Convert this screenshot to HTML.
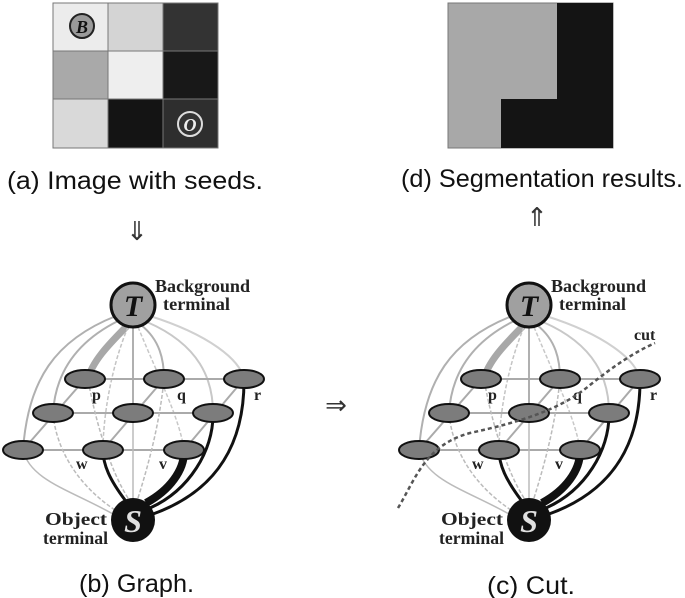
<!DOCTYPE html>
<html><head><meta charset="utf-8"><style>html,body{margin:0;padding:0;background:#fff}svg{display:block}</style></head>
<body>
<svg width="685" height="598" viewBox="0 0 685 598" xmlns="http://www.w3.org/2000/svg">
<defs>
<g id="graph">
  <g fill="none" stroke="#b0b0b0" stroke-width="2">
    <path d="M116 316 C55 340 28 380 23 450"/>
    <path d="M118 321 C70 345 55 380 53 413"/>
    <path d="M127 326 C108 345 92 362 88 379" stroke="#a8a8a8" stroke-width="7"/>
    <path d="M133 327 L133 413"/>
    <path d="M141 325 C160 340 164 360 164 379"/>
    <path d="M128 327 C110 370 103 420 103 450" stroke="#c4c4c4" stroke-dasharray="4 2" stroke-width="1.5"/>
    <path d="M147 322 C200 345 213 380 213 413" stroke="#c8c8c8"/>
    <path d="M150 316 C210 335 240 360 244 379" stroke="#d0d0d0"/>
    <path d="M138 327 C160 380 180 420 184 450" stroke="#c8c8c8" stroke-dasharray="4 2" stroke-width="1.5"/>
  </g>
  <g fill="none" stroke="#aaaaaa" stroke-width="2">
    <line x1="85" y1="379" x2="244" y2="379"/>
    <line x1="53" y1="413" x2="213" y2="413"/>
    <line x1="23" y1="450" x2="184" y2="450"/>
    <line x1="85" y1="379" x2="23" y2="450"/>
    <line x1="164" y1="379" x2="103" y2="450"/>
    <line x1="244" y1="379" x2="184" y2="450"/>
  </g>
  <g fill="none" stroke="#bbbbbb" stroke-width="1.5">
    <path d="M113 514 C70 490 30 480 23 450"/>
    <path d="M115 510 C70 480 55 440 53 413" stroke-dasharray="4 2"/>
    <path d="M133 498 L133 413"/>
    <path d="M128 498 C110 470 95 420 88 379" stroke-dasharray="4 2"/>
    <path d="M138 498 C150 460 160 420 164 379" stroke-dasharray="4 2"/>
  </g>
  <g fill="none" stroke="#111" stroke-width="3">
    <path d="M125 500 C110 480 103 465 103 450"/>
    <path d="M146 503 C170 490 184 470 184 452" stroke-width="8"/>
    <path d="M150 508 C190 490 213 450 213 415"/>
    <path d="M153 514 C220 490 244 440 244 381"/>
  </g>
  <g fill="#7c7c7c" stroke="#111" stroke-width="2">
    <ellipse cx="85" cy="379" rx="20" ry="9"/>
    <ellipse cx="164" cy="379" rx="20" ry="9"/>
    <ellipse cx="244" cy="379" rx="20" ry="9"/>
    <ellipse cx="53" cy="413" rx="20" ry="9"/>
    <ellipse cx="133" cy="413" rx="20" ry="9"/>
    <ellipse cx="213" cy="413" rx="20" ry="9"/>
    <ellipse cx="23" cy="450" rx="20" ry="9"/>
    <ellipse cx="103" cy="450" rx="20" ry="9"/>
    <ellipse cx="184" cy="450" rx="20" ry="9"/>
  </g>
  <circle cx="133" cy="305" r="22" fill="#a0a0a0" stroke="#111" stroke-width="3"/>
  <text x="133" y="316" text-anchor="middle" font-family="Liberation Serif, serif" font-style="italic" font-weight="bold" font-size="30" fill="#111">T</text>
  <circle cx="133" cy="520" r="22" fill="#111"/>
  <text x="133" y="532" text-anchor="middle" font-family="Liberation Serif, serif" font-style="italic" font-weight="bold" font-size="32" fill="#e0e0e0">S</text>
  <g font-family="Liberation Serif, serif" font-weight="bold" font-size="18" fill="#222">
    <text x="155" y="292" textLength="95" lengthAdjust="spacingAndGlyphs">Background</text>
    <text x="163" y="310" textLength="67" lengthAdjust="spacingAndGlyphs">terminal</text>
    <text x="45" y="525" textLength="62" lengthAdjust="spacingAndGlyphs">Object</text>
    <text x="43" y="544" textLength="65" lengthAdjust="spacingAndGlyphs">terminal</text>
    <text x="92" y="400" font-size="16">p</text>
    <text x="177" y="400" font-size="16">q</text>
    <text x="254" y="400" font-size="16">r</text>
    <text x="76" y="469" font-size="16">w</text>
    <text x="159" y="469" font-size="16">v</text>
  </g>
</g>
</defs>

<g stroke="#777" stroke-width="1">
  <rect x="53" y="3" width="55" height="48" fill="#ececec"/>
  <rect x="108" y="3" width="55" height="48" fill="#d4d4d4"/>
  <rect x="163" y="3" width="55" height="48" fill="#333"/>
  <rect x="53" y="51" width="55" height="48" fill="#a9a9a9"/>
  <rect x="108" y="51" width="55" height="48" fill="#eeeeee"/>
  <rect x="163" y="51" width="55" height="48" fill="#181818"/>
  <rect x="53" y="99" width="55" height="49" fill="#d9d9d9"/>
  <rect x="108" y="99" width="55" height="49" fill="#141414"/>
  <rect x="163" y="99" width="55" height="49" fill="#2e2e2e"/>
</g>
<circle cx="82" cy="26" r="12" fill="#9a9a9a" stroke="#222" stroke-width="2"/>
<text x="82" y="33" text-anchor="middle" font-family="Liberation Serif, serif" font-style="italic" font-weight="bold" font-size="18" fill="#111">B</text>
<circle cx="190" cy="124" r="12" fill="#333" stroke="#ddd" stroke-width="2"/>
<text x="190" y="131" text-anchor="middle" font-family="Liberation Serif, serif" font-style="italic" font-weight="bold" font-size="18" fill="#eee">O</text>

<rect x="448" y="3" width="165" height="145" fill="#a8a8a8" stroke="#777"/>
<rect x="557" y="3" width="56" height="145" fill="#141414"/>
<rect x="501" y="99" width="112" height="49" fill="#141414"/>

<g font-family="Liberation Sans, sans-serif" font-size="25" fill="#111">
  <text x="7" y="189" textLength="256" lengthAdjust="spacingAndGlyphs">(a) Image with seeds.</text>
  <text x="401" y="187" textLength="282" lengthAdjust="spacingAndGlyphs">(d) Segmentation results.</text>
  <text x="79" y="592" textLength="115" lengthAdjust="spacingAndGlyphs">(b) Graph.</text>
  <text x="487" y="594" textLength="88" lengthAdjust="spacingAndGlyphs">(c) Cut.</text>
</g>
<g font-family="DejaVu Sans, sans-serif" font-size="26" fill="#333" text-anchor="middle">
  <text x="137" y="240">⇓</text>
  <text x="537" y="226">⇑</text>
  <text x="336" y="414">⇒</text>
</g>

<use href="#graph"/>
<g transform="translate(396,0)"><use href="#graph"/></g>
<path d="M398 508 C415 480 425 445 470 433 C520 422 560 410 590 385 C615 365 635 352 655 343" fill="none" stroke="#555" stroke-width="2.5" stroke-dasharray="4 3"/>
<text x="634" y="340" font-family="Liberation Serif, serif" font-weight="bold" font-size="16" fill="#222">cut</text>
</svg>
</body></html>
